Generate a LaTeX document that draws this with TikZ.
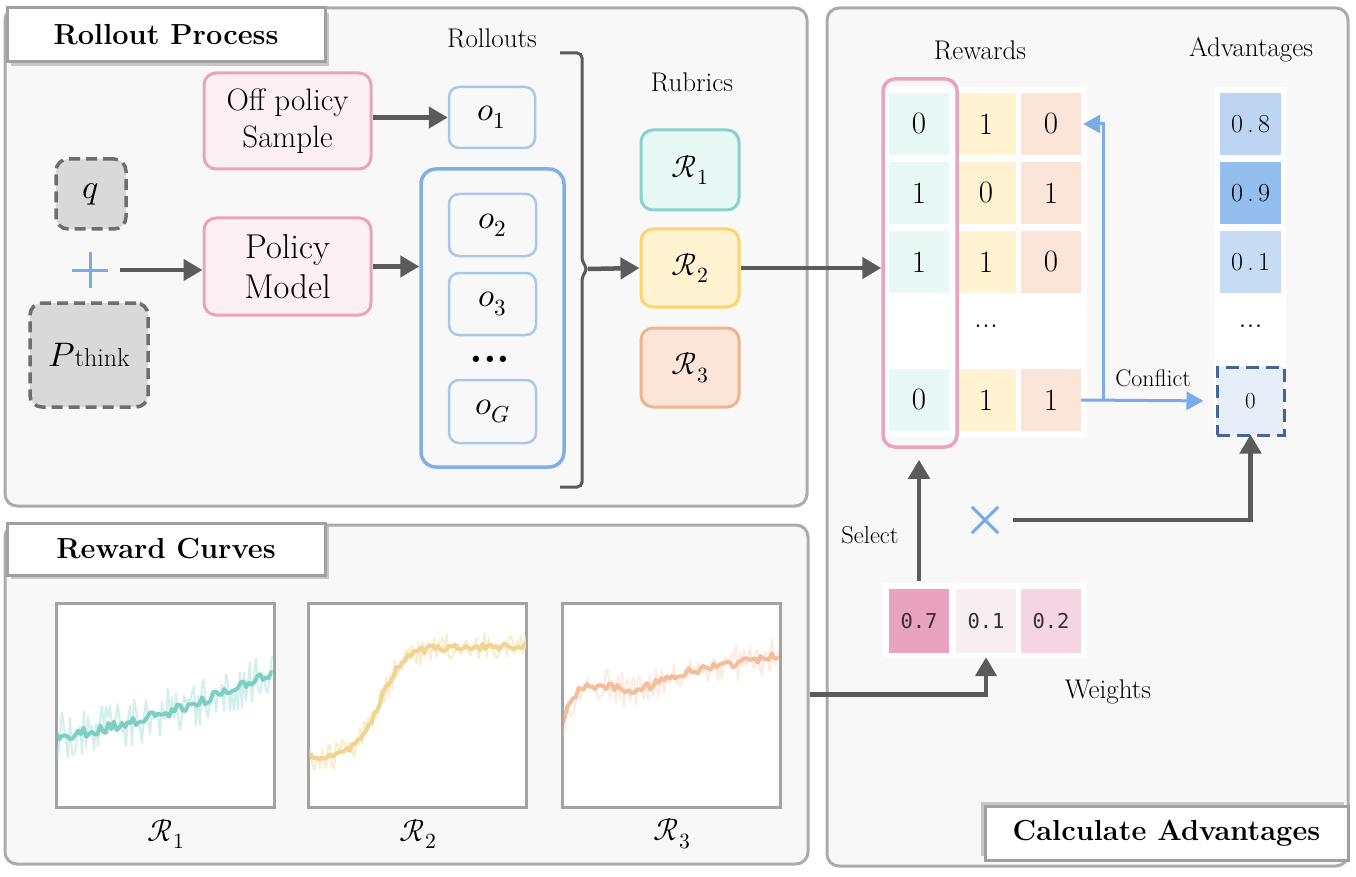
\documentclass[tikz,border=0pt]{standalone}
\usepackage{unicode-math}
\setmathfont{Latin Modern Math}
\newfontfamily\wmono{DejaVu Sans Mono}
\usetikzlibrary{arrows.meta,calc}
\newcommand\fsz[2]{\rmfamily\fontsize{#1}{#2}\selectfont}
\definecolor{panelbg}{HTML}{F8F8F8}
\definecolor{panelbd}{HTML}{ABABAB}
\definecolor{titlebd}{HTML}{A0A0A0}
\definecolor{arrgray}{HTML}{5B5B5B}
\definecolor{pinkbd}{HTML}{E9A3BE}
\definecolor{pinkbg}{HTML}{FDF0F4}
\definecolor{obd}{HTML}{A9C8E8}
\definecolor{grpbd}{HTML}{7FAEE8}
\definecolor{tealbd}{HTML}{86D3C9}
\definecolor{tealbg}{HTML}{E8F8F5}
\definecolor{yelbd}{HTML}{FBD56B}
\definecolor{yelbg}{HTML}{FFF3D1}
\definecolor{orbd}{HTML}{F0B48A}
\definecolor{orbg}{HTML}{FBE4D8}
\definecolor{adva}{HTML}{BCD5F2}
\definecolor{advb}{HTML}{94BEEE}
\definecolor{advc}{HTML}{C6DCF4}
\definecolor{advd}{HTML}{E5EEF9}
\definecolor{advbd}{HTML}{44649A}
\definecolor{wa}{HTML}{E9A3BE}
\definecolor{wb}{HTML}{F8EEF2}
\definecolor{wc}{HTML}{F5D5E2}
\definecolor{dashbg}{HTML}{D9D9D9}
\definecolor{dashbd}{HTML}{6E6E6E}
\definecolor{blueln}{HTML}{78ABE8}
\definecolor{framebd}{HTML}{A3A3A3}
\definecolor{tealL}{HTML}{D3EFEB}
\definecolor{tealD}{HTML}{7DCFC3}
\definecolor{yelL}{HTML}{FAEDCC}
\definecolor{yelD}{HTML}{F0D48F}
\definecolor{orL}{HTML}{FCEBE0}
\definecolor{orD}{HTML}{F5BE9B}
\begin{document}
\begin{tikzpicture}[x=1pt,y=-1pt,
  sz/.style 2 args={minimum width=#1, minimum height=#2, inner sep=0pt},
  panel/.style={draw=panelbd, line width=3pt, fill=panelbg, rounded corners=12pt},
  title/.style={draw=titlebd, line width=3pt, fill=white, font=\fsz{29}{32}\bfseries},
  pinkbox/.style={draw=pinkbd, fill=pinkbg, line width=3pt, rounded corners=12pt, align=center},
  obox/.style={draw=obd, fill=panelbg, line width=2.5pt, rounded corners=10pt, font=\fsz{33}{34}},
  rbox/.style={line width=3pt, rounded corners=12pt, font=\fsz{31}{32}},
  dashbox/.style={draw=dashbd, fill=dashbg, line width=3.5pt, dash pattern=on 11pt off 6pt, rounded corners=12pt},
  arr/.style={draw=arrgray, line width=4.5pt, -{Triangle[length=19pt,width=21pt]}},
  barr/.style={draw=blueln, line width=3pt, -{Triangle[length=17pt,width=18pt]}},
  lbl/.style={font=\fsz{27}{30}},
  cell/.style={sz={60}{62}, font=\fsz{31}{32}},
  frame/.style={draw=framebd, line width=3pt, fill=white, sz={218}{204}}
]
\useasboundingbox (0,0) rectangle (1356,877);
\fill[white] (0,0) rectangle (1356,877);

% panels
\node[panel, sz={802}{498}] (rp) at (406,257) {};
\node[panel, sz={803}{339}] (rcp) at (406.5,694.5) {};
\node[panel, sz={521}{858}] (cap) at (1087.5,437) {};

% titles
\fill[black!22] (11,13) rectangle (329,66);
\node[title, sz={318}{54}] (t1) at (166,35) {Rollout Process};
\fill[black!22] (11,527) rectangle (329,579);
\node[title, sz={318}{52}] (t2) at (166,549) {Reward Curves};
\fill[black!22] (981,802) rectangle (1344,856);
\node[title, sz={363}{54}] (t3) at (1166.5,833) {Calculate Advantages};

% rollout process
\node[lbl] (lro) at (492,38) {Rollouts};
\node[lbl] (lru) at (692,82) {Rubrics};
\node[pinkbox, sz={167}{96}, font=\fsz{31}{37}] (off) at (287.5,121) {Off policy\\Sample};
\node[pinkbox, sz={167}{97}, font=\fsz{34.5}{40}] (pm) at (287.5,266.5) {Policy\\Model};
\node[dashbox, sz={70}{70}, font=\fsz{34}{34}] (q) at (91,194) {$q$};
\node[dashbox, sz={118}{104}] (pt) at (89,355) {{\fsz{34}{34}$P$}{\fsz{26}{27}think}};
\node[sz={36}{36}] (plus) at (90,270) {};
\draw[blueln, line width=3pt] (plus.west) -- (plus.east) (plus.north) -- (plus.south);

\node[obox, sz={86}{61}] (o1) at (492,117.5) {$o_1$};
\node[draw=grpbd, line width=3.5pt, rounded corners=15pt, sz={143}{298}] (grp) at (492.5,318) {};
\node[obox, sz={87}{62}] (o2) at (492.5,225) {$o_2$};
\node[obox, sz={87}{62}] (o3) at (492.5,304) {$o_3$};
\node[font=\fsz{44}{44}\bfseries] (odots) at (490,359) {...};
\node[obox, sz={87}{63}] (oG) at (492.5,411.5) {$o_G$};

\draw[arrgray, line width=3pt, rounded corners=5pt] (560,53) -- (582,53) -- (582,262) -- (588,269) -- (582,276) -- (582,487) -- (560,487);
\coordinate (btip) at (588,269);

\node[rbox, draw=tealbd, fill=tealbg, sz={98}{80}] (R1) at (690,170) {$\mathcal{R}_1$};
\node[rbox, draw=yelbd, fill=yelbg, sz={98}{78}] (R2) at (690,268) {$\mathcal{R}_2$};
\node[rbox, draw=orbd, fill=orbg, sz={98}{79}] (R3) at (690,367.5) {$\mathcal{R}_3$};

% reward curves
\node[frame] (f1) at (165,705) {};
\node[frame] (f2) at (417.5,705) {};
\node[frame] (f3) at (671,705) {};
\pgfmathsetseed{12}
\begin{scope}
\clip (57.5,604.5) rectangle (272.5,805.5);
\draw[tealL, line width=2pt, line join=round] plot[domain=0:1, samples=110] ({56+218*\x},{735-62*\x*sqrt(\x)+24*rand});
\draw[tealD, line width=4pt, line join=round] plot[domain=0:1, samples=80] ({56+218*\x},{735-62*\x*sqrt(\x)+5*rand});
\end{scope}
\begin{scope}
\clip (309.5,604.5) rectangle (525.5,805.5);
\draw[yelL, line width=2pt, line join=round] plot[domain=0:1, samples=110] ({308+219*\x},{757-110/(1+exp(-(\x-0.33)*18))+14*rand});
\draw[yelD, line width=4pt, line join=round] plot[domain=0:1, samples=80] ({308+219*\x},{757-110/(1+exp(-(\x-0.33)*18))+3.5*rand});
\end{scope}
\begin{scope}
\clip (563.5,604.5) rectangle (778.5,805.5);
\draw[orL, line width=2pt, line join=round] plot[domain=0:1, samples=110] ({562+218*\x},{726-40*(1-exp(-25*\x))-32*\x*sqrt(\x)+10*exp(-64*(\x-0.35)*(\x-0.35))+18*rand});
\draw[orD, line width=4pt, line join=round] plot[domain=0:1, samples=80] ({562+218*\x},{726-40*(1-exp(-25*\x))-32*\x*sqrt(\x)+10*exp(-64*(\x-0.35)*(\x-0.35))+4*rand});
\end{scope}
\node[font=\fsz{31}{32}] (c1) at (166,834) {$\mathcal{R}_1$};
\node[font=\fsz{31}{32}] (c2) at (418,834) {$\mathcal{R}_2$};
\node[font=\fsz{31}{32}] (c3) at (672,834) {$\mathcal{R}_3$};

% calculate advantages
\node[lbl] (lrw) at (980,50) {Rewards};
\node[lbl] (lad) at (1251,50) {Advantages};
\node[fill=white, sz={204}{350}] (rbg) at (985,262) {};
\node[fill=white, sz={72}{350}] (abg) at (1250,262) {};
\foreach \r/\y/\a/\b/\c in {1/124/0/1/0, 2/193/1/0/1, 3/262/1/1/0, 5/400/0/1/1} {
  \node[cell, fill=tealbg] (m\r1) at (919,\y) {\a};
  \node[cell, fill=yelbg] (m\r2) at (986,\y) {\b};
  \node[cell, fill=orbg] (m\r3) at (1051,\y) {\c};
}
\node[font=\fsz{32}{32}] (mdots) at (986,326) {...};
\node[draw=pinkbd, line width=3.5pt, rounded corners=12pt, sz={74}{368}] (sel) at (920,263) {};

\node[cell, sz={61}{62}, fill=adva, font=\fsz{26}{27}] (a1) at (1250.5,124) {0\,.\,8};
\node[cell, sz={61}{62}, fill=advb, font=\fsz{26}{27}] (a2) at (1250.5,193) {0\,.\,9};
\node[cell, sz={61}{62}, fill=advc, font=\fsz{26}{27}] (a3) at (1250.5,262) {0\,.\,1};
\node[font=\fsz{32}{32}] (a4) at (1250.5,326) {...};
\node[sz={67}{68}, fill=advd, draw=advbd, line width=3pt, dash pattern=on 13pt off 7pt, font=\fsz{23}{24}] (a5) at (1250.5,401) {0};

\node[font=\fsz{24}{26}] (conf) at (1153,378) {Conflict};
\draw[barr, shorten >=12pt] (m53.east) -- (a5.west);
\coordinate (br) at ($(m53.east)+(22,0)$);
\draw[barr, shorten >=2pt] (br) |- (m13.east);

\node[fill=white, sz={204}{75}] (wbg) at (985,620.5) {};
\node[cell, sz={60}{64}, fill=wa, font=\fsz{20.5}{22}\wmono, text=black!80] (w1) at (919,621) {0.7};
\node[cell, sz={60}{64}, fill=wb, font=\fsz{20.5}{22}\wmono, text=black!80] (w2) at (986,621) {0.1};
\node[cell, sz={60}{64}, fill=wc, font=\fsz{20.5}{22}\wmono, text=black!80] (w3) at (1051,621) {0.2};
\node[font=\fsz{24.5}{26}] (lsel) at (870,535) {Select};
\node[font=\fsz{27}{29}] (lw) at (1108,692) {Weights};

\node[sz={26}{26}] (times) at (985,520) {};
\draw[blueln, line width=3pt] (times.north west) -- (times.south east) (times.north east) -- (times.south west);

% arrows
\draw[arr, shorten <=12pt] (plus.east) -- (plus -| pm.west);
\draw[arr] (off.east |- o1) -- (o1.west);
\draw[arr] (pm.east) -- (pm.east -| grp.west);
\draw[arr] (btip) -- (R2.west);
\draw[arr] (R2.east) -- (R2.east -| sel.west);
\draw[arr, shorten <=8pt, shorten >=11pt] (w1.north) -- (w1.north |- sel.south);
\draw[arr, shorten >=4pt] (rcp.east) -| (w2.south);
\draw[arr, shorten <=15pt, shorten >=-2pt] (times.east) -| (a5.south);
\end{tikzpicture}
\end{document}
